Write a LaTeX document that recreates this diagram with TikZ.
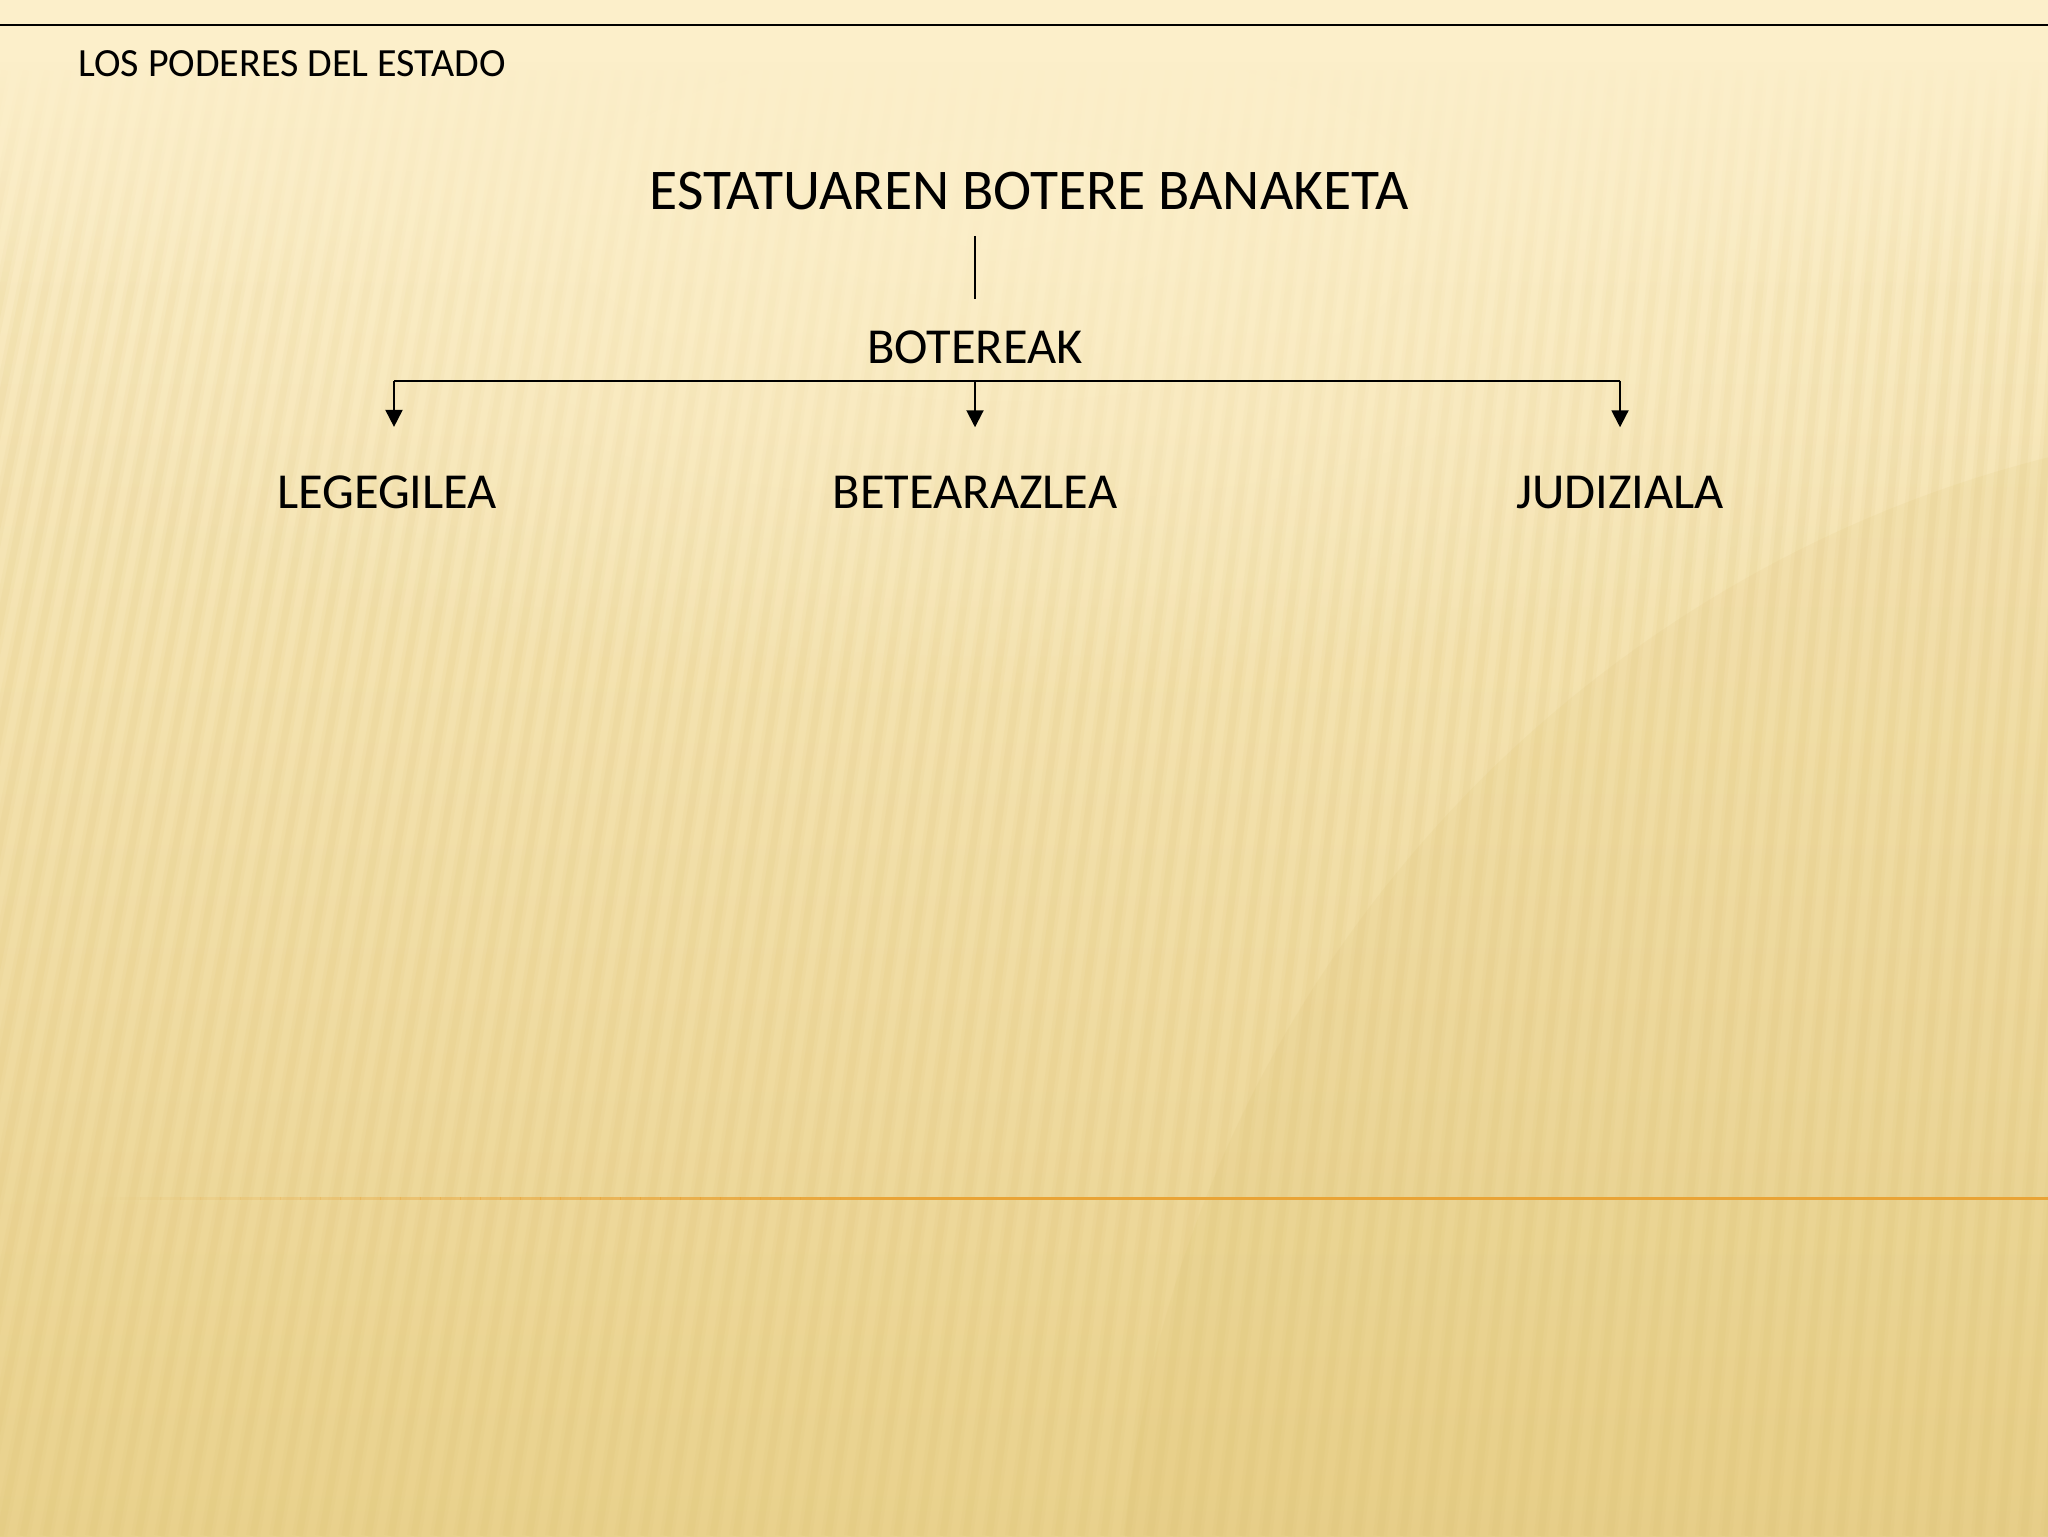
\documentclass[tikz,border=0pt]{standalone}
\usepackage{fontspec}
\setmainfont{Carlito}
\usetikzlibrary{arrows.meta,fadings}
\definecolor{bgtop}{HTML}{FCEFCA}
\definecolor{bgmid}{HTML}{F6E4AC}
\definecolor{bgbot}{HTML}{E9D18C}
\definecolor{stripe}{HTML}{D8BA66}
\definecolor{orangeline}{HTML}{E9A436}
\tikzfading[name=softglow, inner color=transparent!0, outer color=transparent!100]
\begin{document}
\begin{tikzpicture}[x=0.5pt,y=-0.5pt,
  lbl/.style={font=\fontsize{25.2}{30}\selectfont, inner sep=0, anchor=base},
  conn/.style={line width=1pt, black},
  arr/.style={conn, -{Triangle[length=8.5pt,width=8.5pt]}}]
\useasboundingbox (0,0) rectangle (2048,1536);
% background
\shade[top color=bgtop, middle color=bgmid, bottom color=bgbot] (0,0) rectangle (2048,1536);
% darker disc at right
\fill[stripe, opacity=0.10] (2350,1650) circle (1230);
% stripes
\begin{scope}
\clip (0,70) rectangle (2048,1536);
\foreach \i in {-15,...,95} {
  \pgfmathsetmacro{\xb}{\i*23}
  \pgfmathsetmacro{\lean}{280-0.08*\xb}
  \draw[stripe, line width=7pt, opacity=0.07] (\xb,1536) -- ({\xb+\lean},70);
  \draw[stripe, line width=3.5pt, opacity=0.09] (\xb,1536) -- ({\xb+\lean},70);
}
\end{scope}
% soften the top of the stripes and add a bright glow near the top centre
\fill[bgtop, path fading=south] (0,40) rectangle (2048,300);
\fill[bgtop, opacity=0.8, path fading=softglow] (1000,220) ellipse (1150 and 480);
\fill[bgtop] (0,0) rectangle (2048,62);
% orange rule, fading in from the left
\foreach \k in {0,...,39} {
  \pgfmathsetmacro{\op}{(\k+0.5)/40}
  \fill[orangeline, opacity=\op] ({100+\k*20},1196.5) rectangle ({120.5+\k*20},1199.5);
}
\fill[orangeline] (900,1196.5) rectangle (2048,1199.5);
% top rule
\coordinate (tl) at (0,25);
\coordinate (tr) at (2048,25);
\draw[line width=1pt] (tl) -- (tr);
% texts
\node[anchor=base west, font=\fontsize{20}{24}\selectfont, inner sep=0] (hdr) at (78,76) {LOS PODERES DEL ESTADO};
\node[anchor=base, font=\fontsize{28.8}{34}\selectfont, inner sep=0] (title) at (1029,209) {ESTATUAREN BOTERE BANAKETA};
\node[lbl] (pow) at (975,363) {BOTEREAK};
\node[lbl] (leg) at (387,508) {LEGEGILEA};
\node[lbl] (bet) at (975,508) {BETEARAZLEA};
\node[lbl] (jud) at (1620,508) {JUDIZIALA};
% connectors
\draw[conn] ([yshift=-13pt]title.south -| pow.north) -- ([yshift=15.5pt]pow.north);
\coordinate (bar) at ([yshift=-8.5pt]pow.south);
\coordinate (legtop) at ([xshift=3.5pt,yshift=24pt]leg.north);
\coordinate (bettop) at ([yshift=24pt]bet.north);
\coordinate (judtop) at ([yshift=24pt]jud.north);
\draw[conn] (bar -| legtop) -- (bar -| judtop);
\draw[arr] (bar -| legtop) -- (legtop);
\draw[arr] (bar -| bettop) -- (bettop);
\draw[arr] (bar -| judtop) -- (judtop);
\end{tikzpicture}
\end{document}
